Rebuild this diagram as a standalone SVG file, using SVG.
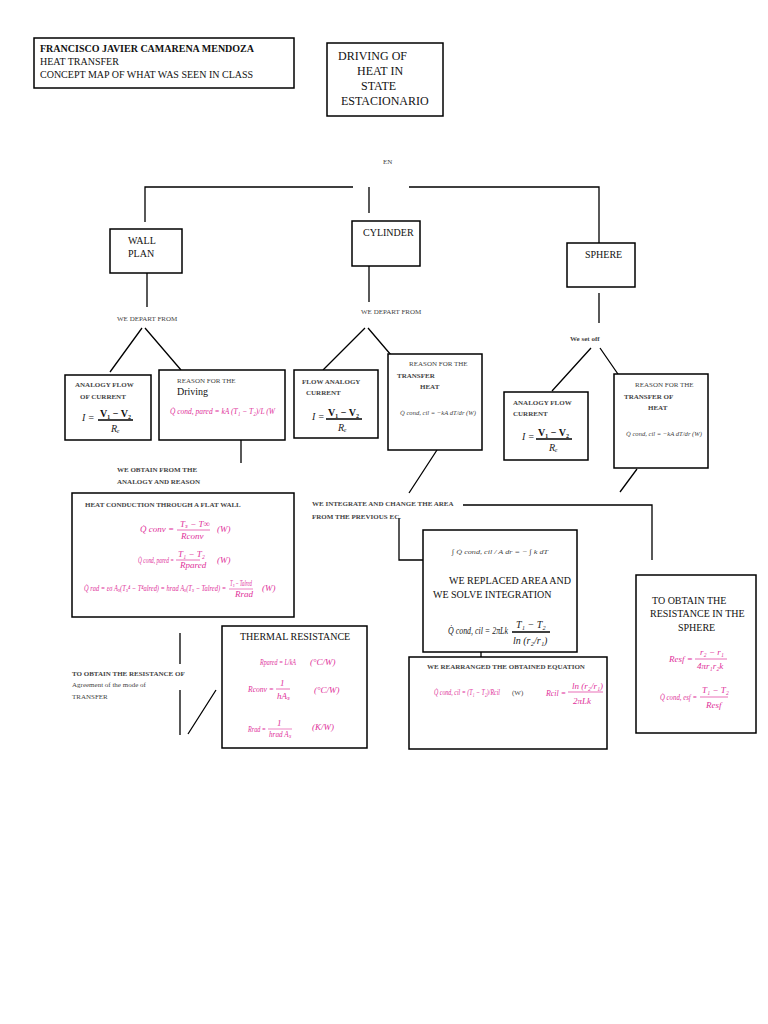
<svg xmlns="http://www.w3.org/2000/svg" width="768" height="1024" viewBox="0 0 768 1024">
<style>
.b{fill:#fff;stroke:#000;stroke-width:1.5}
.l{stroke:#000;stroke-width:1.3;fill:none}
text{font-family:"Liberation Serif",serif;fill:#111}
.t{font-size:10px}
.s{font-size:7px;fill:#444}
.m{font-size:12px}
.p{fill:#e0309a;font-size:9px;font-style:italic}
.k{fill:#222;font-style:italic;font-size:10px}
</style>
<rect width="768" height="1024" fill="#fff"/>
<g id="connectors">
<path class="l" d="M145 222V187H353M369 187V213M409 187H599V243"/>
<path class="l" d="M147 273V307M142 328L110 372M145 328L181 370M241 440V463"/>
<path class="l" d="M369 266V302M365 328L323 370M368 328L391 355M437 450L409 493"/>
<path class="l" d="M463 505H652V560M399 518V560H437M481 652V658"/>
<path class="l" d="M599 293V323M591 348L552 391M600 348L620 377M637 469L620 492"/>
<path class="l" d="M180 633V664M180 690V735M188 734L216 690"/>
</g>
<g id="header"><rect class="b" x="34" y="38" width="260" height="50"/>
<text x="40" y="52" class="t" font-weight="bold">FRANCISCO JAVIER CAMARENA MENDOZA</text>
<text x="40" y="65" class="t">HEAT TRANSFER</text>
<text x="40" y="78" class="t">CONCEPT MAP OF WHAT WAS SEEN IN CLASS</text></g>
<g id="title"><rect class="b" x="327" y="43" width="116" height="73"/>
<text x="338" y="60" class="m">DRIVING OF</text><text x="357" y="75" class="m">HEAT IN</text>
<text x="361" y="90" class="m">STATE</text><text x="341" y="105" class="m">ESTACIONARIO</text></g>
<text x="383" y="164" class="s">EN</text>
<g id="wall"><rect class="b" x="110" y="229" width="72" height="44"/>
<text x="128" y="244" class="t">WALL</text><text x="128" y="257" class="t">PLAN</text></g>
<g id="cyl"><rect class="b" x="352" y="221" width="68" height="45"/><text x="363" y="236" class="t">CYLINDER</text></g>
<g id="sph"><rect class="b" x="567" y="243" width="68" height="44"/><text x="585" y="258" class="t">SPHERE</text></g>
<text x="117" y="321" class="s">WE DEPART FROM</text>
<text x="361" y="314" class="s">WE DEPART FROM</text>
<text x="570" y="341" class="s" font-weight="bold">We set off</text>
<g id="an1"><rect class="b" x="65" y="375" width="86" height="65"/>
<text x="75" y="387" class="s" font-weight="bold" font-size="8">ANALOGY FLOW</text><text x="80" y="399" class="s" font-weight="bold" font-size="8">OF CURRENT</text>
<text x="82" y="421" class="k">I =</text><text x="100" y="417" class="t" font-weight="bold">V₁ − V₂</text><path class="l" d="M98 420H133" stroke-width=".8"/><text x="111" y="432" class="k" font-size="8">Rₑ</text></g>
<g id="re1"><rect class="b" x="159" y="370" width="126" height="70"/>
<text x="177" y="383" class="s">REASON FOR THE</text><text x="177" y="395" class="t" font-size="8">Driving</text>
<text x="170" y="414" class="p" font-size="6" textLength="105" lengthAdjust="spacingAndGlyphs">Q̇ cond, pared = kA (T₁ − T₂)/L       (W</text></g>
<text x="117" y="472" class="s" font-weight="bold" font-size="8">WE OBTAIN FROM THE</text>
<text x="117" y="484" class="s" font-weight="bold" font-size="8">ANALOGY AND REASON</text>
<g id="flat"><rect class="b" x="72" y="493" width="222" height="124"/>
<text x="85" y="507" class="s" font-weight="bold" font-size="8">HEAT CONDUCTION THROUGH A FLAT WALL</text>
<text x="140" y="532" class="p" textLength="34" lengthAdjust="spacingAndGlyphs">Q̇ conv =</text><text x="180" y="527" class="p">Tₛ − T∞</text><path d="M177 530H210" stroke="#e0309a" stroke-width=".7"/><text x="181" y="539" class="p" font-size="7">Rconv</text><text x="217" y="532" class="p" font-style="normal">(W)</text>
<text x="138" y="563" class="p" font-size="7" textLength="36" lengthAdjust="spacingAndGlyphs">Q̇ cond, pared =</text><text x="178" y="557" class="p" font-size="7">T₁ − T₂</text><path d="M176 560H200" stroke="#e0309a" stroke-width=".7"/><text x="180" y="568" class="p" font-size="6">Rpared</text><text x="217" y="563" class="p" font-size="7" font-style="normal">(W)</text>
<text x="84" y="591" class="p" font-size="6" textLength="142" lengthAdjust="spacingAndGlyphs">Q̇ rad = εσ Aₛ(Tₛ⁴ − T⁴alred) = hrad Aₛ(Tₛ − Talred) =</text><text x="230" y="586" class="p" font-size="6" textLength="22" lengthAdjust="spacingAndGlyphs">Tₛ − Talred</text><path d="M229 589H253" stroke="#e0309a" stroke-width=".6"/><text x="235" y="597" class="p" font-size="6">Rrad</text><text x="262" y="591" class="p" font-size="7" font-style="normal">(W)</text></g>
<g id="an2"><rect class="b" x="294" y="370" width="84" height="68"/>
<text x="302" y="384" class="s" font-weight="bold" font-size="8">FLOW ANALOGY</text><text x="306" y="395" class="s" font-weight="bold" font-size="8">CURRENT</text>
<text x="312" y="420" class="k">I =</text><text x="328" y="416" class="t" font-weight="bold">V₁ − V₂</text><path class="l" d="M326 419H362" stroke-width=".8"/><text x="338" y="431" class="k" font-size="9">Rₑ</text></g>
<g id="re2"><rect class="b" x="388" y="354" width="94" height="96"/>
<text x="409" y="366" class="s">REASON FOR THE</text><text x="397" y="378" class="s" font-weight="bold" font-size="8">TRANSFER</text><text x="420" y="389" class="s" font-weight="bold" font-size="8">HEAT</text>
<text x="400" y="415" class="s" font-style="italic" font-size="6" textLength="76" lengthAdjust="spacingAndGlyphs">Q̇ cond, cil = −kA dT/dr        (W)</text></g>
<g id="an3"><rect class="b" x="504" y="392" width="84" height="68"/>
<text x="513" y="405" class="s" font-weight="bold" font-size="8">ANALOGY FLOW</text><text x="513" y="416" class="s" font-weight="bold" font-size="8">CURRENT</text>
<text x="522" y="440" class="k">I =</text><text x="538" y="436" class="t" font-weight="bold">V₁ − V₂</text><path class="l" d="M536 439H572" stroke-width=".8"/><text x="549" y="451" class="k" font-size="8">Rₑ</text></g>
<g id="re3"><rect class="b" x="614" y="374" width="94" height="94"/>
<text x="635" y="387" class="s">REASON FOR THE</text><text x="624" y="399" class="s" font-weight="bold" font-size="8">TRANSFER OF</text><text x="648" y="410" class="s" font-weight="bold" font-size="8">HEAT</text>
<text x="626" y="436" class="s" font-style="italic" font-size="6" textLength="76" lengthAdjust="spacingAndGlyphs">Q̇ cond, cil = −kA dT/dr      (W)</text></g>
<text x="312" y="506" class="s" font-weight="bold" font-size="8">WE INTEGRATE AND CHANGE THE AREA</text>
<text x="312" y="519" class="s" font-weight="bold" font-size="8">FROM THE PREVIOUS EC.</text>
<g id="integ"><rect class="b" x="423" y="530" width="154" height="122"/>
<text x="452" y="554" class="s" font-style="italic" font-size="7" textLength="96" lengthAdjust="spacingAndGlyphs">∫ Q̇ cond, cil / A  dr = − ∫ k dT</text>
<text x="449" y="584" class="t">WE REPLACED AREA AND</text><text x="433" y="598" class="t">WE SOLVE INTEGRATION</text>
<text x="448" y="634" class="k" textLength="60" lengthAdjust="spacingAndGlyphs">Q̇ cond, cil = 2πLk</text><text x="516" y="628" class="k">T₁ − T₂</text><path class="l" d="M512 632H550" stroke-width=".7"/><text x="513" y="644" class="k" font-size="8">ln (r₂/r₁)</text></g>
<g id="rearr"><rect class="b" x="409" y="657" width="198" height="92"/>
<text x="427" y="669" class="s" font-weight="bold" font-size="8">WE REARRANGED THE OBTAINED EQUATION</text>
<text x="434" y="695" class="p" font-size="6" textLength="66" lengthAdjust="spacingAndGlyphs">Q̇ cond, cil = (T₁ − T₂)/Rcil</text><text x="512" y="695" class="s" font-size="6">(W)</text>
<text x="546" y="696" class="p" font-size="9" textLength="20" lengthAdjust="spacingAndGlyphs">Rcil =</text><text x="572" y="689" class="p" font-size="8">ln (r₂/r₁)</text><path d="M568 692H603" stroke="#e0309a" stroke-width=".7"/><text x="573" y="704" class="p" font-size="8">2πLk</text></g>
<g id="sres"><rect class="b" x="636" y="575" width="120" height="158"/>
<text x="652" y="604" class="t">TO OBTAIN THE</text><text x="650" y="617" class="t">RESISTANCE IN THE</text><text x="678" y="631" class="t">SPHERE</text>
<text x="669" y="662" class="p" textLength="24" lengthAdjust="spacingAndGlyphs">Resf =</text><text x="700" y="655" class="p">r₂ − r₁</text><path d="M695 659H727" stroke="#e0309a" stroke-width=".7"/><text x="697" y="669" class="p" font-size="8">4πr₁r₂k</text>
<text x="660" y="700" class="p" font-size="8" textLength="37" lengthAdjust="spacingAndGlyphs">Q̇ cond, esf =</text><text x="702" y="693" class="p">T₁ − T₂</text><path d="M700 697H728" stroke="#e0309a" stroke-width=".7"/><text x="706" y="708" class="p" font-size="8">Resf</text></g>
<g id="thres"><rect class="b" x="222" y="626" width="145" height="122"/>
<text x="240" y="640" class="t">THERMAL RESISTANCE</text>
<text x="260" y="665" class="p" font-size="7" textLength="36" lengthAdjust="spacingAndGlyphs">Rpared = L/kA</text><text x="310" y="665" class="p" font-size="8" font-style="normal">(°C/W)</text>
<text x="248" y="692" class="p" textLength="26" lengthAdjust="spacingAndGlyphs">Rconv =</text><text x="280" y="686" class="p">1</text><path d="M276 689H290" stroke="#e0309a" stroke-width=".7"/><text x="277" y="699" class="p" font-size="8">hAₛ</text><text x="314" y="693" class="p" font-style="normal">(°C/W)</text>
<text x="248" y="732" class="p" font-size="7" textLength="18" lengthAdjust="spacingAndGlyphs">Rrad =</text><text x="277" y="726" class="p" font-size="7">1</text><path d="M268 729H292" stroke="#e0309a" stroke-width=".6"/><text x="269" y="737" class="p" font-size="6" textLength="22" lengthAdjust="spacingAndGlyphs">hrad Aₛ</text><text x="312" y="730" class="p" font-size="8" font-style="normal">(K/W)</text></g>
<text x="72" y="676" class="s" font-weight="bold" font-size="8">TO OBTAIN THE RESISTANCE OF</text>
<text x="72" y="687" class="s" font-size="6">Agreement of the mode of</text>
<text x="72" y="699" class="s" font-size="8">TRANSFER</text>
</svg>
